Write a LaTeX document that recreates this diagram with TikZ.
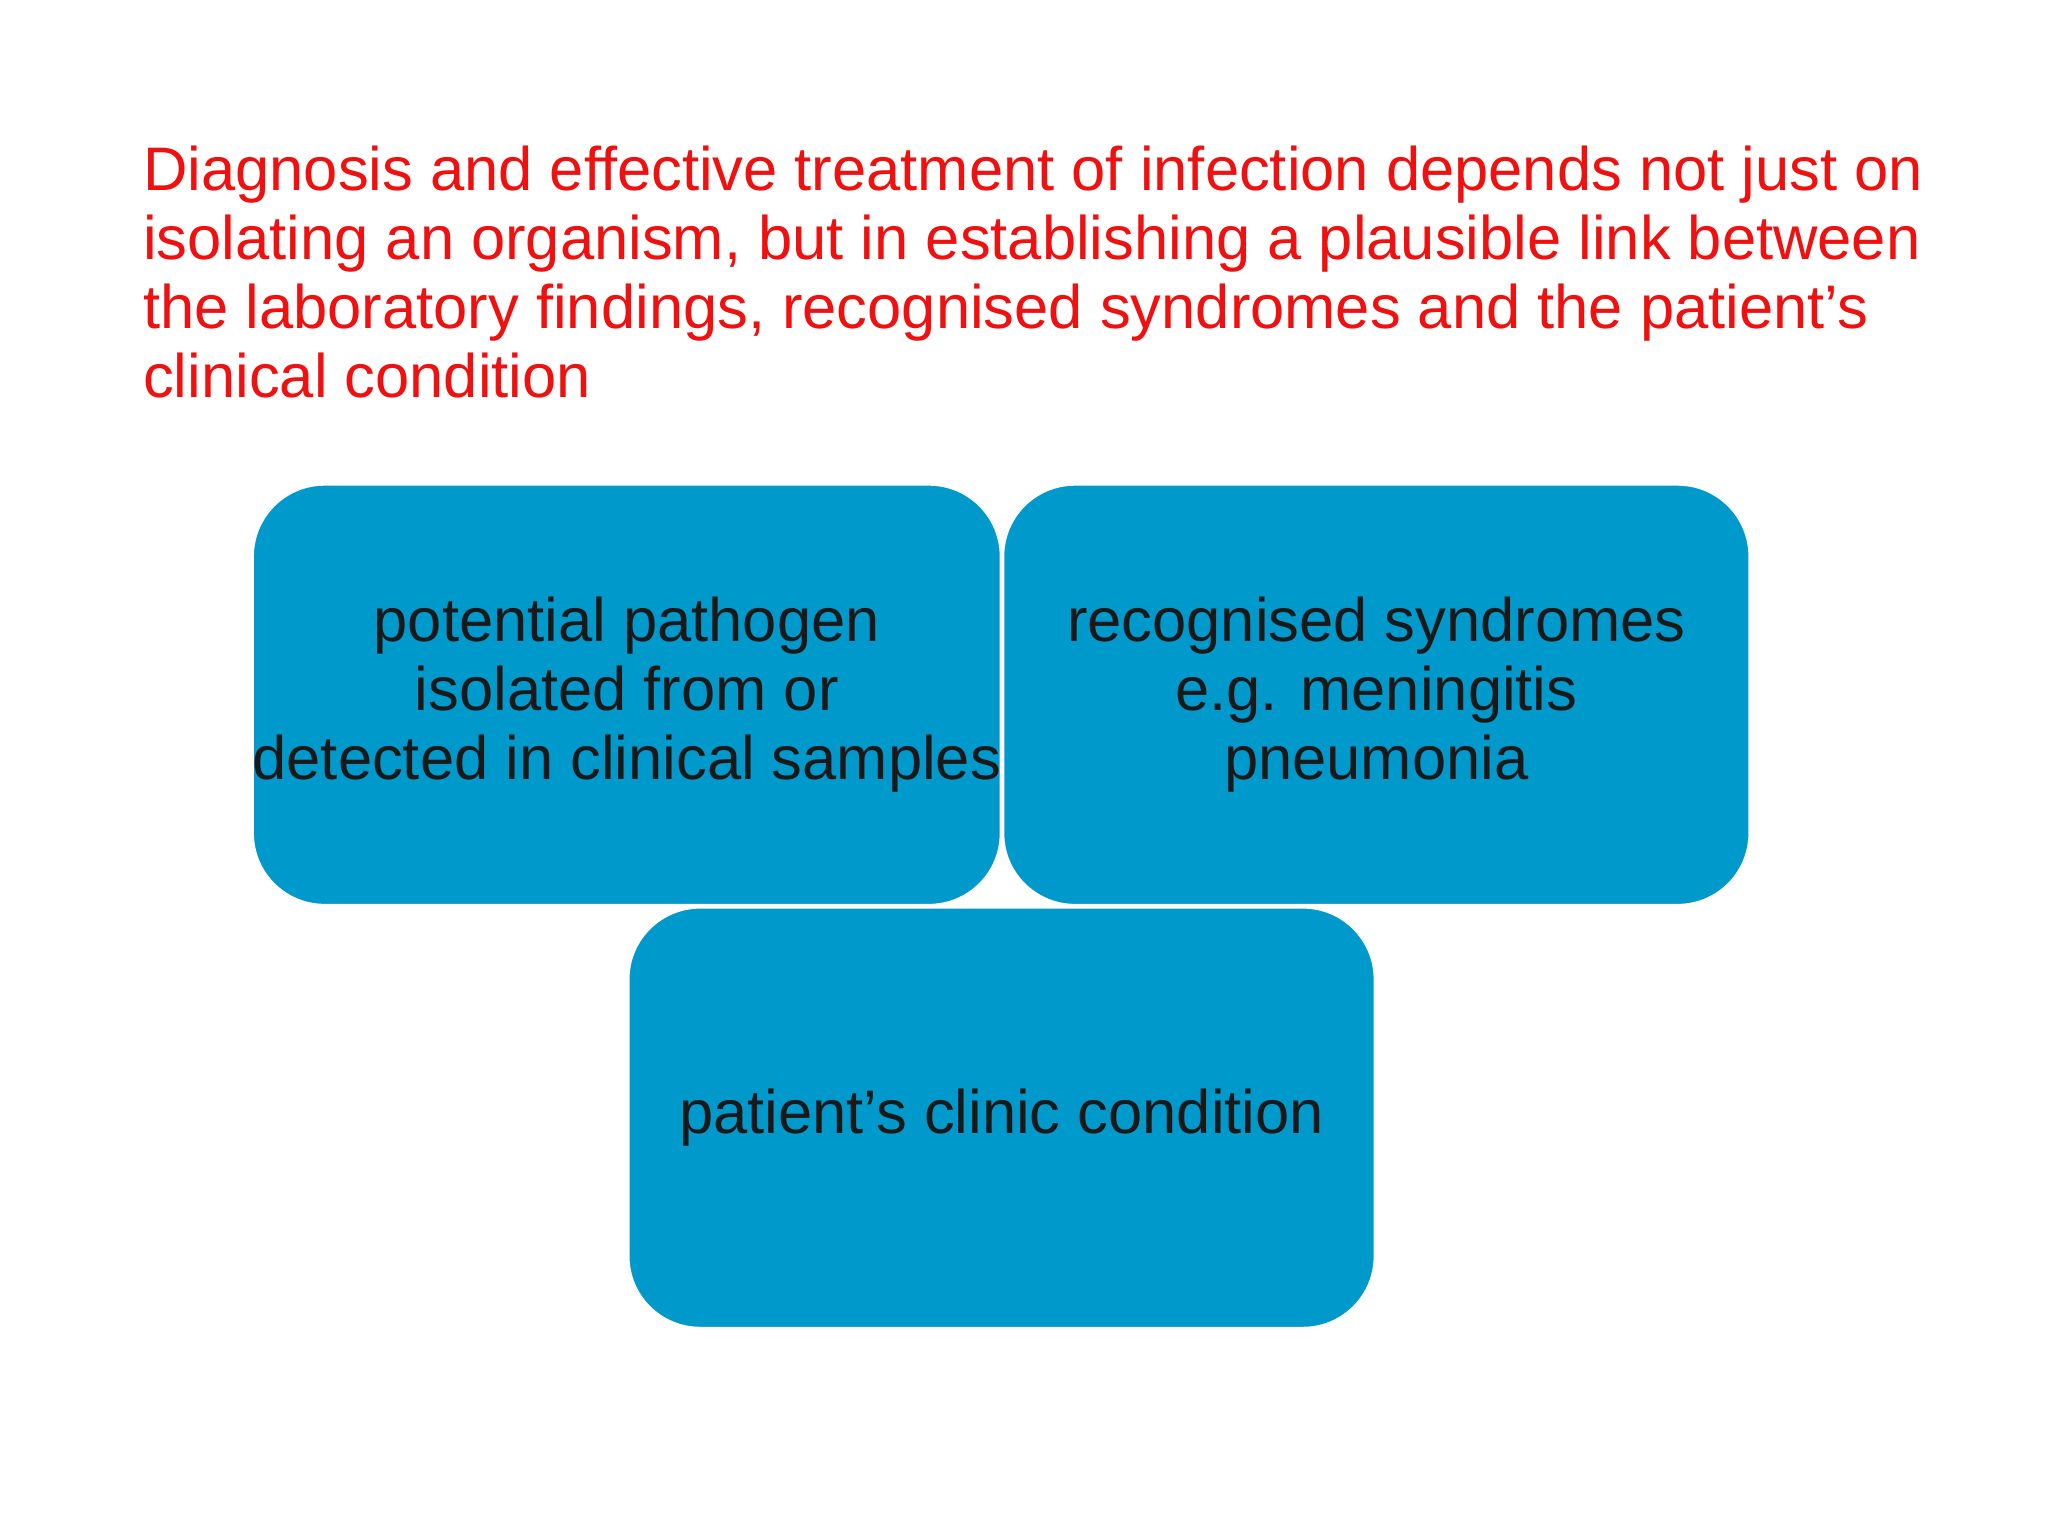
\documentclass[tikz,border=0pt]{standalone}
\usepackage{fontspec}
\setmainfont{Liberation Sans}
\definecolor{boxblue}{HTML}{0099CC}
\definecolor{titlered}{HTML}{F01010}
\begin{document}
\begin{tikzpicture}[x=0.013196cm,y=-0.013196cm,
  box/.style={draw=white,line width=0.8pt,fill=boxblue,rounded corners=0.72cm,minimum width=566*0.013196cm,minimum height=319*0.013196cm,align=center,font=\fontsize{17.5}{19.6}\selectfont,text=black!90,inner sep=0pt}]
\useasboundingbox[fill=white] (0,0) rectangle (1552,1164);
\node[anchor=north west,align=left,text=titlered,font=\fontsize{17.5}{19.6}\selectfont,inner sep=0pt] (title) at (108,110)
{Diagnosis and effective treatment of infection depends not just on\\
isolating an organism, but in establishing a plausible link between\\
the laboratory findings, recognised syndromes and the patient's\\
clinical condition};
\node[box] (p) at (475,526.5) {potential pathogen\\isolated from or\\detected in clinical samples};
\node[box] (s) at (1043,526.5) {recognised syndromes\\e.g. meningitis\\pneumonia};
\node[box] (c) at (759,847) {patient's clinic condition};
\end{tikzpicture}
\end{document}
